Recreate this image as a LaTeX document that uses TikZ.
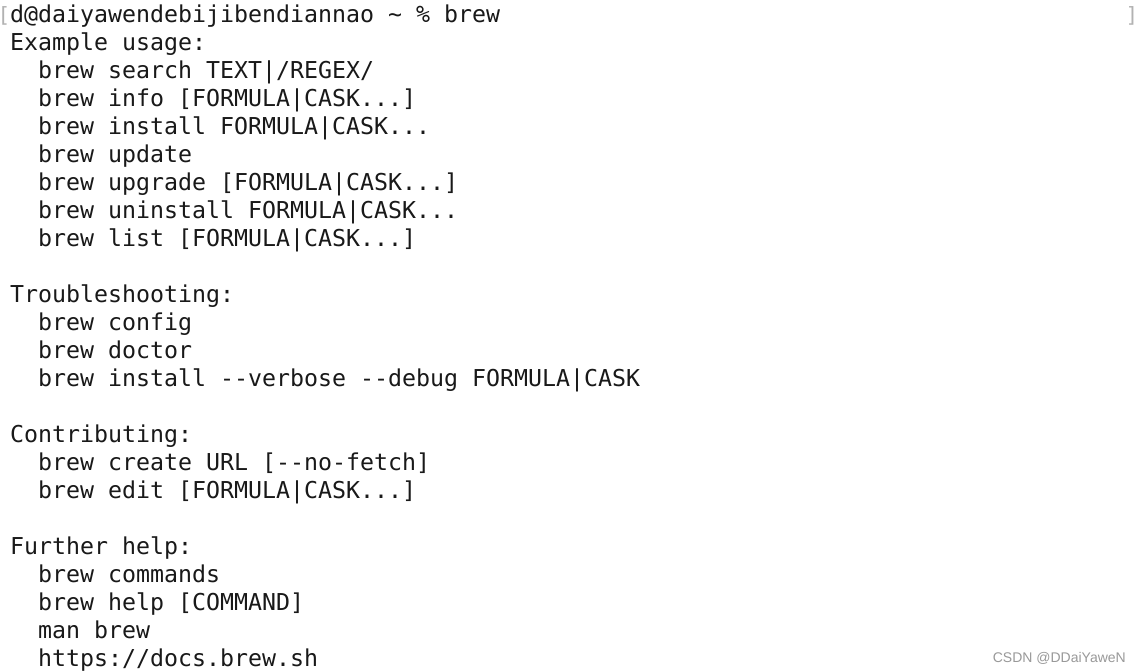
\documentclass[tikz,border=0pt]{standalone}
\usepackage{fontspec}
\newfontfamily\term{DejaVu Sans Mono}
\newfontfamily\wm{Liberation Sans}
\begin{document}
\begin{tikzpicture}[x=1pt,y=-1pt,
  ln/.style={anchor=base west,inner sep=0pt,font=\term\fontsize{23.25}{28}\selectfont,text=black!90},
  br/.style={anchor=base,inner sep=0pt,font=\term\fontsize{21}{28}\selectfont,text=black!30}]
\useasboundingbox[fill=white] (0,0) rectangle (1138,672);
\node[br] (lb) at (4,22) {[};
\node[br] (rb) at (1132,22) {]};
\node[ln] (l0) at (10,22) {d@daiyawendebijibendiannao \textasciitilde{} \% brew};
\node[ln] (l1) at (10,50) {Example usage:};
\node[ln] (l2) at (38,78) {brew search TEXT|/REGEX/};
\node[ln] (l3) at (38,106) {brew info [FORMULA|CASK...]};
\node[ln] (l4) at (38,134) {brew install FORMULA|CASK...};
\node[ln] (l5) at (38,162) {brew update};
\node[ln] (l6) at (38,190) {brew upgrade [FORMULA|CASK...]};
\node[ln] (l7) at (38,218) {brew uninstall FORMULA|CASK...};
\node[ln] (l8) at (38,246) {brew list [FORMULA|CASK...]};
\node[ln] (l10) at (10,302) {Troubleshooting:};
\node[ln] (l11) at (38,330) {brew config};
\node[ln] (l12) at (38,358) {brew doctor};
\node[ln] (l13) at (38,386) {brew install -{}-verbose -{}-debug FORMULA|CASK};
\node[ln] (l15) at (10,442) {Contributing:};
\node[ln] (l16) at (38,470) {brew create URL [-{}-no-fetch]};
\node[ln] (l17) at (38,498) {brew edit [FORMULA|CASK...]};
\node[ln] (l19) at (10,554) {Further help:};
\node[ln] (l20) at (38,582) {brew commands};
\node[ln] (l21) at (38,610) {brew help [COMMAND]};
\node[ln] (l22) at (38,638) {man brew};
\node[ln] (l23) at (38,666) {https://docs.brew.sh};
\node[anchor=base east,inner sep=0pt,font=\wm\fontsize{14}{16}\selectfont,text=black!40] (wmk) at (1126,662) {CSDN @DDaiYaweN};
\end{tikzpicture}
\end{document}
